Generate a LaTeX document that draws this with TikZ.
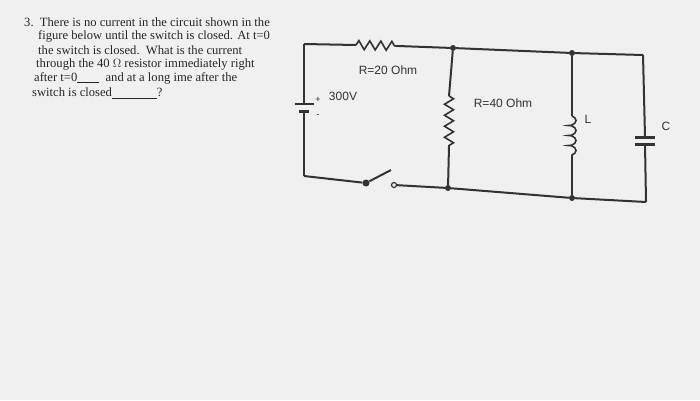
\documentclass[tikz,border=0pt]{standalone}
\usepackage{fontspec}
\setmainfont{Liberation Serif}
\newfontfamily\lab{Liberation Sans}
\usetikzlibrary{decorations.pathmorphing}
\begin{document}
\begin{tikzpicture}[x=1pt,y=-1pt,
  wire/.style={line width=2pt,color=black!80},
  dot/.style={circle,fill=black!80,inner sep=0pt,minimum size=6pt},
  txt/.style={anchor=west,inner sep=0pt,font=\fontsize{12.6}{14}\selectfont,color=black!85},
  lbl/.style={inner sep=0pt,font=\lab\fontsize{12}{14}\selectfont,color=black!80},
  pm/.style={inner sep=0pt,font=\lab\fontsize{9}{10}\selectfont,color=black!80},
  zig/.style={wire,line width=1.6pt,decorate,decoration={zigzag,segment length=11pt,amplitude=4.5pt}}]
\useasboundingbox[fill=black!6] (0,0) rectangle (700,400);
% text
\node[txt] (t1) at (24,22) {3.\ \ There is no current in the circuit shown in the};
\node[txt] (t2) at (38,36) {figure below until the switch is closed. At t=0};
\node[txt] (t3) at (38,50) {the switch is closed.\ \ What is the current};
\node[txt] (t4) at (36,64) {through the 40 $\Omega$ resistor immediately right};
\node[txt] (t5) at (34,78) {after t=0\underline{\hspace{22pt}}\ \ and at a long ime after the};
\node[txt] (t6) at (32,93) {switch is closed\underline{\hspace{45pt}}?};
% coordinates
\coordinate (tl) at (304,44);
\coordinate (ra) at (356,45);
\coordinate (rb) at (398,46);
\node[dot] (j1) at (453,48) {};
\node[dot] (j2) at (572,53) {};
\coordinate (tr) at (643,55);
\coordinate (bl) at (304,176);
\node[dot,minimum size=7pt] (sw) at (366,183) {};
\node[circle,draw=black!80,line width=1.2pt,inner sep=0pt,minimum size=5pt] (so) at (394,185) {};
\node[dot] (b1) at (448,188) {};
\node[dot] (b2) at (572,198) {};
\coordinate (br) at (646,202);
% left branch with battery
\draw[wire] (tl) -- (304,104);
\draw[wire] (304,111) -- (bl);
\draw[wire] (295,104) -- (314,104);
\draw[wire,line width=3pt] (299,111) -- (309,111);
\draw[wire] (tl) -- (ra);
\draw[zig] (ra) -- (rb);
\draw[wire] (rb) -- (j1) -- (j2) -- (tr);
\draw[wire] (bl) -- (sw);
\draw[wire] (sw) -- (391,170);
\draw[wire] (so) -- (b1) -- (b2) -- (br);
% R40
\draw[wire] (j1) -- (449,96);
\draw[zig] (449,96) -- (449,146);
\draw[wire] (449,146) -- (b1);
% inductor
\draw[wire] (j2) -- (572,116);
\draw[wire,line width=1.6pt,decorate,decoration={coil,aspect=0.5,segment length=10pt,amplitude=4pt}] (572,116) -- (572,160);
\draw[wire] (572,160) -- (b2);
% capacitor
\draw[wire] (tr) -- (645,137);
\draw[wire,line width=3pt] (635,137) -- (655,137);
\draw[wire,line width=3pt] (635,144) -- (655,144);
\draw[wire] (645,144) -- (br);
% labels
\node[lbl] (lr20) at (388,70) {R=20 Ohm};
\node[pm] (lp) at (318,100) {+};
\node[pm] (lm) at (318,116) {-};
\node[lbl] (lv) at (343,96) {300V};
\node[lbl] (lr40) at (503,103) {R=40 Ohm};
\node[lbl] (ll) at (588,119) {L};
\node[lbl] (lc) at (666,126) {C};
\end{tikzpicture}
\end{document}
